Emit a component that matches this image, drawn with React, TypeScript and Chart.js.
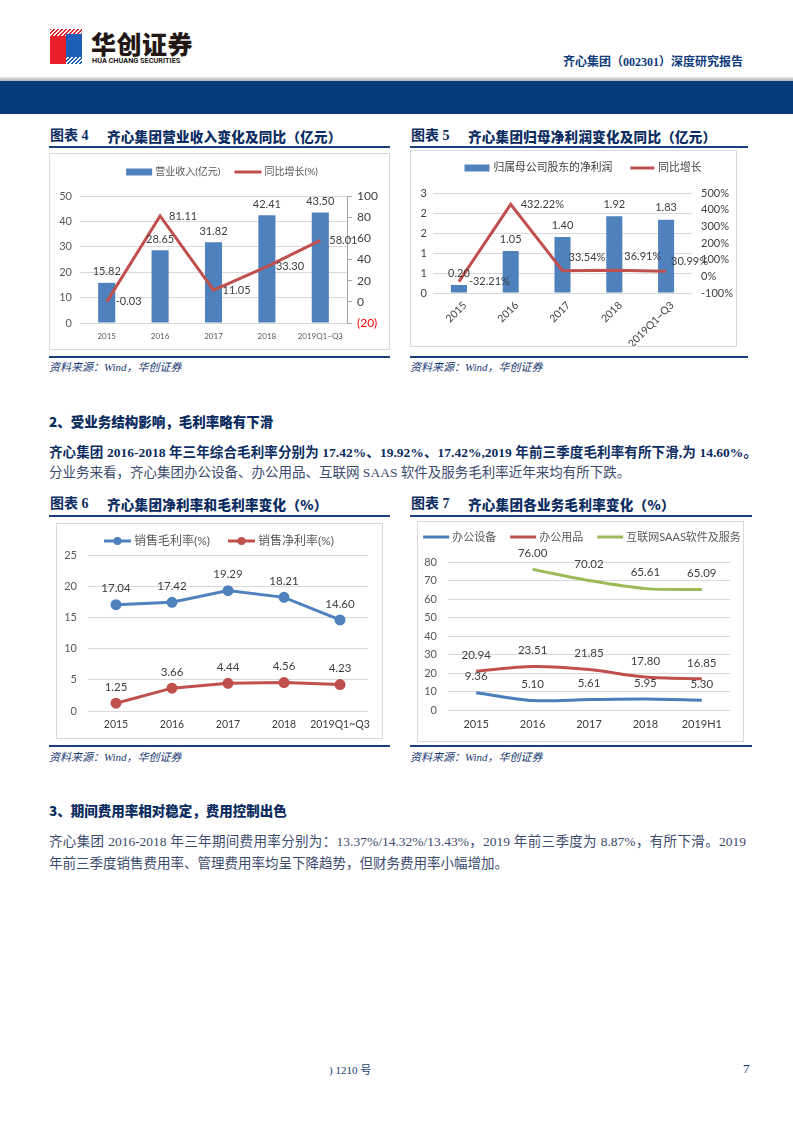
import React, { useEffect, useRef } from 'react';
import { Chart, registerables } from 'chart.js';
Chart.register(...registerables);

const FONT = "Lato, 'Noto Sans CJK SC', sans-serif";
const CJK = "'Noto Sans CJK SC', sans-serif";
const SERIF = "'Liberation Serif', 'Noto Sans CJK SC', serif";

// ---- 图表4 ----
const years4 = ['2015', '2016', '2017', '2018', '2019Q1~Q3'];
const revenue = [15.82, 28.65, 31.82, 42.41, 43.5];
const revenueYoY = [-0.03, 81.11, 11.05, 33.3, 58.01];

// ---- 图表5 ----
const years5 = ['2015', '2016', '2017', '2018', '2019Q1~Q3'];
const netProfit = [0.2, 1.05, 1.4, 1.92, 1.83];
const netProfitYoY = [-32.21, 432.22, 33.54, 36.91, 30.99];

// ---- 图表6 ----
const years6 = ['2015', '2016', '2017', '2018', '2019Q1~Q3'];
const grossMargin = [17.04, 17.42, 19.29, 18.21, 14.6];
const netMargin = [1.25, 3.66, 4.44, 4.56, 4.23];

// ---- 图表7 ----
const years7 = ['2015', '2016', '2017', '2018', '2019H1'];
const officeEquip = [9.36, 5.1, 5.61, 5.95, 5.3];
const officeSupplies = [20.94, 23.51, 21.85, 17.8, 16.85];
const saasService = [null, 76.0, 70.02, 65.61, 65.09];

const BLUE = '#4f81bd';
const RED = '#c0504d';
const GREEN = '#9bbb59';
const NAVY = '#0b2c61';

type LabelCfg = {
  dataset: number;
  font: string;
  color: string;
  align?: CanvasTextAlign;
  offsets: number[][];
  format: (v: number) => string;
};

function makeValueLabels(items: LabelCfg[]) {
  return {
    id: 'valueLabels',
    afterDatasetsDraw(chart: any) {
      const ctx = chart.ctx;
      items.forEach((cfg) => {
        const meta = chart.getDatasetMeta(cfg.dataset);
        const data = chart.data.datasets[cfg.dataset].data;
        meta.data.forEach((el: any, i: number) => {
          const v = data[i];
          if (v === null || v === undefined) return;
          const off = cfg.offsets[i] || cfg.offsets[0];
          ctx.save();
          ctx.font = cfg.font;
          ctx.fillStyle = cfg.color;
          ctx.textAlign = cfg.align || 'center';
          ctx.textBaseline = 'middle';
          ctx.fillText(cfg.format(v), el.x + off[0], el.y + off[1]);
          ctx.restore();
        });
      });
    },
  };
}

type LegendItem = { dataset: number; type: 'rect' | 'line' | 'lineDot'; w: number };
function makeLegend(cfg: { y: number; font: string; color: string; gap: number; itemGap: number; cx?: number; items: LegendItem[] }) {
  return {
    id: 'customLegend',
    afterDraw(chart: any) {
      const ctx = chart.ctx;
      ctx.save();
      ctx.font = cfg.font;
      const widths = cfg.items.map((it) => it.w + cfg.gap + ctx.measureText(chart.data.datasets[it.dataset].label).width);
      const total = widths.reduce((a, b) => a + b, 0) + cfg.itemGap * (cfg.items.length - 1);
      let x = (cfg.cx !== undefined ? cfg.cx : chart.width / 2) - total / 2;
      const y = cfg.y;
      cfg.items.forEach((it, k) => {
        const ds = chart.data.datasets[it.dataset];
        if (it.type === 'rect') {
          ctx.fillStyle = ds.backgroundColor;
          ctx.fillRect(x, y - 3.5, it.w, 7);
        } else {
          ctx.strokeStyle = ds.borderColor;
          ctx.lineWidth = 3;
          ctx.beginPath();
          ctx.moveTo(x, y);
          ctx.lineTo(x + it.w, y);
          ctx.stroke();
          if (it.type === 'lineDot') {
            ctx.fillStyle = ds.borderColor;
            ctx.beginPath();
            ctx.arc(x + it.w / 2, y, 4, 0, Math.PI * 2);
            ctx.fill();
          }
        }
        ctx.fillStyle = cfg.color;
        ctx.textAlign = 'left';
        ctx.textBaseline = 'middle';
        ctx.fillText(ds.label, x + it.w + cfg.gap, y);
        x += widths[k] + cfg.itemGap;
      });
      ctx.restore();
    },
  };
}

function ChartCanvas({ left, top, width, height, build }: { left: number; top: number; width: number; height: number; build: () => any }) {
  const ref = useRef<HTMLCanvasElement>(null);
  useEffect(() => {
    if (!ref.current) return;
    const chart = new Chart(ref.current, build());
    return () => chart.destroy();
  }, []);
  return (
    <div style={{ position: 'absolute', left, top, width, height }}>
      <canvas ref={ref} />
    </div>
  );
}

const noTip = { legend: { display: false }, tooltip: { enabled: false } };

function buildChart4() {
  return {
    type: 'bar',
    data: {
      labels: years4,
      datasets: [
        { type: 'bar', label: '营业收入(亿元)', data: revenue, backgroundColor: BLUE, barPercentage: 0.32, categoryPercentage: 1, yAxisID: 'y', order: 1 },
        { type: 'line', label: '同比增长(%)', data: revenueYoY, borderColor: RED, backgroundColor: RED, borderWidth: 3, pointRadius: 0, tension: 0, yAxisID: 'y1', order: 0 },
      ],
    },
    options: {
      animation: false,
      responsive: true,
      maintainAspectRatio: false,
      layout: { padding: { top: 42, left: 0, right: 0, bottom: 0 } },
      plugins: noTip,
      scales: {
        x: {
          grid: { display: false, drawTicks: false },
          border: { display: false },
          ticks: { font: { family: FONT, size: 8 }, color: '#595959', padding: 9, maxRotation: 0, autoSkip: false },
          afterFit: (s: any) => { s.height = 26; },
        },
        y: {
          position: 'left', min: 0, max: 50,
          ticks: { stepSize: 10, font: { family: FONT, size: 11 }, color: '#595959', padding: 8 },
          grid: { color: '#d9d9d9', drawTicks: false },
          border: { display: false },
          afterFit: (s: any) => { s.width = 30; },
        },
        y1: {
          position: 'right', min: -20, max: 100,
          ticks: {
            stepSize: 20, font: { family: FONT, size: 12 }, padding: 5,
            color: (c: any) => (c.tick && c.tick.value < 0 ? '#ff0000' : '#404040'),
            callback: (v: any) => (v < 0 ? `(${-v})` : `${v}`),
          },
          grid: { drawOnChartArea: false, tickLength: 5, color: '#a6a6a6' },
          border: { display: true, color: '#a6a6a6' },
          afterFit: (s: any) => { s.width = 42; },
        },
      },
    },
    plugins: [
      makeLegend({ y: 18, font: `10px ${FONT}`, color: '#595959', gap: 3, itemGap: 14, cx: 172, items: [{ dataset: 0, type: 'rect', w: 26 }, { dataset: 1, type: 'line', w: 27 }] }),
      makeValueLabels([
        { dataset: 0, font: `11px ${FONT}`, color: '#404040', offsets: [[0, -11]], format: (v) => v.toFixed(2) },
        { dataset: 1, font: `11px ${FONT}`, color: '#404040', align: 'left', offsets: [[9, 0]], format: (v) => v.toFixed(2) },
      ]),
    ],
  };
}

function buildChart5() {
  return {
    type: 'bar',
    data: {
      labels: years5,
      datasets: [
        { type: 'bar', label: '归属母公司股东的净利润', data: netProfit, backgroundColor: BLUE, barPercentage: 0.31, categoryPercentage: 1, yAxisID: 'y', order: 1 },
        { type: 'line', label: '同比增长', data: netProfitYoY, borderColor: RED, backgroundColor: RED, borderWidth: 3, pointRadius: 0, tension: 0, yAxisID: 'y1', order: 0 },
      ],
    },
    options: {
      animation: false,
      responsive: true,
      maintainAspectRatio: false,
      layout: { padding: { top: 42, left: 0, right: 0, bottom: 0 } },
      plugins: noTip,
      scales: {
        x: {
          grid: { display: false, drawTicks: false },
          border: { display: false },
          ticks: { font: { family: FONT, size: 10.5 }, color: '#404040', padding: 6, labelOffset: 6, minRotation: 45, maxRotation: 45, autoSkip: false },
          afterFit: (s: any) => { s.height = 53; },
        },
        y: {
          position: 'left', min: 0, max: 2.5,
          ticks: { stepSize: 0.5, font: { family: FONT, size: 11 }, color: '#404040', padding: 6, callback: (v: any) => `${Math.round(Number(v) + 1e-9)}` },
          grid: { color: '#d9d9d9', drawTicks: false },
          border: { display: false },
          afterFit: (s: any) => { s.width = 22; },
        },
        y1: {
          position: 'right', min: -100, max: 500,
          ticks: { stepSize: 100, font: { family: FONT, size: 11 }, color: '#404040', padding: 9, callback: (v: any) => `${v}%` },
          grid: { display: false, drawTicks: false },
          border: { display: false },
          afterFit: (s: any) => { s.width = 44; },
        },
      },
    },
    plugins: [
      makeLegend({ y: 17, font: `10.8px ${FONT}`, color: '#404040', gap: 4, itemGap: 18, cx: 172, items: [{ dataset: 0, type: 'rect', w: 25 }, { dataset: 1, type: 'line', w: 24 }] }),
      makeValueLabels([
        { dataset: 0, font: `11px ${FONT}`, color: '#404040', offsets: [[0, -12]], format: (v) => v.toFixed(2) },
        { dataset: 1, font: `11px ${FONT}`, color: '#404040', align: 'left', offsets: [[10, 0], [10, 0], [6, -13], [10, -14], [5, -10]], format: (v) => `${v.toFixed(2)}%` },
      ]),
    ],
  };
}

function buildChart6() {
  return {
    type: 'line',
    data: {
      labels: years6,
      datasets: [
        { label: '销售毛利率(%)', data: grossMargin, borderColor: BLUE, backgroundColor: BLUE, borderWidth: 3, pointRadius: 4, pointBackgroundColor: BLUE, pointBorderColor: BLUE, tension: 0 },
        { label: '销售净利率(%)', data: netMargin, borderColor: RED, backgroundColor: RED, borderWidth: 3, pointRadius: 4, pointBackgroundColor: RED, pointBorderColor: RED, tension: 0 },
      ],
    },
    options: {
      animation: false,
      responsive: true,
      maintainAspectRatio: false,
      layout: { padding: { top: 31, left: 0, right: 14, bottom: 0 } },
      plugins: noTip,
      scales: {
        x: {
          offset: true,
          grid: { display: false, drawTicks: false },
          border: { display: false },
          ticks: { font: { family: FONT, size: 10.5 }, color: '#404040', padding: 7, maxRotation: 0, autoSkip: false },
          afterFit: (s: any) => { s.height = 27; },
        },
        y: {
          min: 0, max: 25,
          ticks: { stepSize: 5, font: { family: FONT, size: 11 }, color: '#595959', padding: 11 },
          grid: { color: '#d9d9d9', drawTicks: false },
          border: { display: false },
          afterFit: (s: any) => { s.width = 31; },
        },
      },
    },
    plugins: [
      makeLegend({ y: 17, font: `12px ${FONT}`, color: '#595959', gap: 3, itemGap: 18, cx: 162, items: [{ dataset: 0, type: 'lineDot', w: 27 }, { dataset: 1, type: 'lineDot', w: 27 }] }),
      makeValueLabels([
        { dataset: 0, font: `11.5px ${FONT}`, color: '#404040', offsets: [[0, -16]], format: (v) => v.toFixed(2) },
        { dataset: 1, font: `11.5px ${FONT}`, color: '#404040', offsets: [[0, -16]], format: (v) => v.toFixed(2) },
      ]),
    ],
  };
}

function buildChart7() {
  return {
    type: 'line',
    data: {
      labels: years7,
      datasets: [
        { label: '办公设备', data: officeEquip, borderColor: '#4a7ebb', backgroundColor: '#4a7ebb', borderWidth: 3, pointRadius: 0, tension: 0.3 },
        { label: '办公用品', data: officeSupplies, borderColor: RED, backgroundColor: RED, borderWidth: 3, pointRadius: 0, tension: 0.3 },
        { label: '互联网SAAS软件及服务', data: saasService, borderColor: GREEN, backgroundColor: GREEN, borderWidth: 3, pointRadius: 0, tension: 0.3 },
      ],
    },
    options: {
      animation: false,
      responsive: true,
      maintainAspectRatio: false,
      layout: { padding: { top: 40, left: 0, right: 13, bottom: 0 } },
      plugins: noTip,
      scales: {
        x: {
          offset: true,
          grid: { display: false, drawTicks: false },
          border: { display: false },
          ticks: { font: { family: FONT, size: 11 }, color: '#404040', padding: 8, maxRotation: 0, autoSkip: false },
          afterFit: (s: any) => { s.height = 31; },
        },
        y: {
          min: 0, max: 80,
          ticks: { stepSize: 10, font: { family: FONT, size: 11 }, color: '#595959', padding: 11 },
          grid: { color: '#d9d9d9', drawTicks: false },
          border: { display: false },
          afterFit: (s: any) => { s.width = 30; },
        },
      },
    },
    plugins: [
      makeLegend({ y: 15, font: `11px ${FONT}`, color: '#595959', gap: 3, itemGap: 14, cx: 164, items: [{ dataset: 0, type: 'line', w: 26 }, { dataset: 1, type: 'line', w: 26 }, { dataset: 2, type: 'line', w: 26 }] }),
      makeValueLabels([
        { dataset: 0, font: `11.5px ${FONT}`, color: '#404040', offsets: [[0, -16]], format: (v) => v.toFixed(2) },
        { dataset: 1, font: `11.5px ${FONT}`, color: '#404040', offsets: [[0, -16]], format: (v) => v.toFixed(2) },
        { dataset: 2, font: `11.5px ${FONT}`, color: '#404040', offsets: [[0, -16]], format: (v) => v.toFixed(2) },
      ]),
    ],
  };
}

const abs = (left: number, top: number, extra: React.CSSProperties = {}): React.CSSProperties => ({ position: 'absolute', left, top, ...extra });

function Title({ x, y, num, text }: { x: number; y: number; num: string; text: string }) {
  const st: React.CSSProperties = { fontFamily: SERIF, fontWeight: 700, fontSize: 13.5, color: NAVY, whiteSpace: 'nowrap', lineHeight: '16px' };
  return (
    <>
      <div style={abs(x + 1, y - 8, { ...st, fontSize: 14 })}>图表 {num}</div>
      <div style={abs(x + 58, y - 8, { ...st, fontFamily: CJK, fontWeight: 900, letterSpacing: 0.3 })}>{text}</div>
    </>
  );
}

function Rule({ x, y, w }: { x: number; y: number; w: number }) {
  return <div style={abs(x, y, { width: w, height: 2, background: '#1c3f7e' })} />;
}

function Box({ x, y, w, h }: { x: number; y: number; w: number; h: number }) {
  return <div style={abs(x, y, { width: w - 2, height: h - 2, border: '1px solid #d9d9d9' })} />;
}

function Source({ x, y }: { x: number; y: number }) {
  return (
    <div style={abs(x, y - 8, { fontFamily: SERIF, fontStyle: 'italic', fontSize: 11, color: '#1a3a73', lineHeight: '16px', whiteSpace: 'nowrap' })}>
      资料来源：Wind，华创证券
    </div>
  );
}

export default function App() {
  useEffect(() => {
    document.body.style.margin = '0';
  }, []);
  const body: React.CSSProperties = { fontFamily: SERIF, fontSize: 13.5, color: '#3c4b6e', whiteSpace: 'nowrap', lineHeight: '18px' };
  const head: React.CSSProperties = { fontFamily: CJK, fontWeight: 900, fontSize: 13.5, color: NAVY, whiteSpace: 'nowrap', lineHeight: '18px' };
  return (
    <div style={{ position: 'relative', width: 793, height: 1122, overflow: 'hidden', background: '#fff' }}>
      {/* logo */}
      <div style={abs(50, 29, { width: 32, height: 8, background: 'repeating-linear-gradient(135deg, #e8202a 0 1.4px, #ffffff 1.4px 2.8px)' })} />
      <div style={abs(50, 36, { width: 16, height: 28, background: '#e8202a' })} />
      <div style={abs(66, 34, { width: 16, height: 24, background: '#1d5fb8' })} />
      <div style={abs(66, 57, { width: 16, height: 7, background: 'repeating-linear-gradient(135deg, #1d5fb8 0 1.4px, #ffffff 1.4px 2.8px)' })} />
      <div style={abs(91, 30, { fontFamily: CJK, fontWeight: 900, fontSize: 25, color: '#231815', lineHeight: '26px', letterSpacing: 0.5, whiteSpace: 'nowrap' })}>华创证券</div>
      <div style={abs(92, 57, { fontFamily: 'Roboto, sans-serif', fontWeight: 700, fontSize: 7.3, color: '#231815', lineHeight: '8px', whiteSpace: 'nowrap' })}>HUA CHUANG SECURITIES</div>
      <div style={abs(563, 54, { fontFamily: SERIF, fontWeight: 700, fontSize: 12, color: '#0d3a7a', lineHeight: '16px', whiteSpace: 'nowrap' })}>齐心集团（002301）深度研究报告</div>
      <div style={abs(0, 77, { width: 793, height: 4, background: 'linear-gradient(#e6e6e6, #b5b5b5)' })} />
      <div style={abs(0, 81, { width: 793, height: 33, background: '#073b7b' })} />

      {/* chart 4 */}
      <Title x={49} y={136} num="4" text="齐心集团营业收入变化及同比（亿元）" />
      <Rule x={49} y={146} w={341} />
      <Box x={49} y={153} w={341} h={197} />
      <ChartCanvas left={50} top={154} width={339} height={195} build={buildChart4} />
      <Rule x={49} y={356} w={341} />
      <Source x={49} y={367} />

      {/* chart 5 */}
      <Title x={410} y={136} num="5" text="齐心集团归母净利润变化及同比（亿元）" />
      <Rule x={410} y={146} w={338} />
      <Box x={410} y={150} w={327} h={197} />
      <ChartCanvas left={411} top={151} width={325} height={195} build={buildChart5} />
      <Rule x={410} y={356} w={338} />
      <Source x={410} y={367} />

      {/* section 2 */}
      <div style={abs(49, 412, head)}>2、受业务结构影响，毛利率略有下滑</div>
      <div style={abs(49, 444, { ...body, fontWeight: 700, color: NAVY, width: 708, textAlignLast: 'justify' })}>
        齐心集团 2016-2018 年三年综合毛利率分别为 17.42%、19.92%、17.42%,2019 年前三季度毛利率有所下滑,为 14.60%。
      </div>
      <div style={abs(49, 464, body)}>分业务来看，齐心集团办公设备、办公用品、互联网 SAAS 软件及服务毛利率近年来均有所下跌。</div>

      {/* chart 6 */}
      <Title x={49} y={504} num="6" text="齐心集团净利率和毛利率变化（%）" />
      <Rule x={49} y={515} w={341} />
      <Box x={56} y={523} w={327} h={216} />
      <ChartCanvas left={57} top={524} width={325} height={214} build={buildChart6} />
      <Rule x={49} y={745} w={341} />
      <Source x={49} y={757} />

      {/* chart 7 */}
      <Title x={410} y={504} num="7" text="齐心集团各业务毛利率变化（%）" />
      <Rule x={410} y={515} w={342} />
      <Box x={417} y={521} w={327} h={221} />
      <ChartCanvas left={418} top={522} width={325} height={219} build={buildChart7} />
      <Rule x={410} y={745} w={342} />
      <Source x={410} y={757} />

      {/* section 3 */}
      <div style={abs(49, 801, head)}>3、期间费用率相对稳定，费用控制出色</div>
      <div style={abs(49, 833, { ...body, width: 697, textAlignLast: 'justify' })}>
        齐心集团 2016-2018 年三年期间费用率分别为：13.37%/14.32%/13.43%，2019 年前三季度为 8.87%，有所下滑。2019
      </div>
      <div style={abs(49, 855, body)}>年前三季度销售费用率、管理费用率均呈下降趋势，但财务费用率小幅增加。</div>

      {/* footer */}
      <div style={abs(329, 1062, { fontFamily: SERIF, fontSize: 11, color: '#1a3a73', lineHeight: '16px', whiteSpace: 'nowrap' })}>) 1210 号</div>
      <div style={abs(743, 1061, { fontFamily: SERIF, fontSize: 13, color: '#1a3a73', lineHeight: '16px' })}>7</div>
    </div>
  );
}
